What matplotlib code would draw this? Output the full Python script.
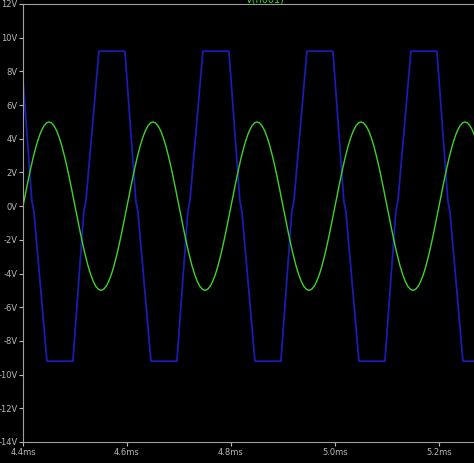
import numpy as np
import matplotlib.pyplot as plt

# green trace: 5 V sine, quarter period sampled every 0.005 ms, mirrored to a full period
quarter = [0.0, 0.782, 1.545, 2.270, 2.939, 3.536, 4.045, 4.455, 4.755, 4.938]
half = quarter + [5.0] + quarter[:0:-1]
sine_period = half + [-v for v in half]
green_t = np.arange(4.40, 5.2701, 0.005)
green_v = np.array((sine_period * 5)[:len(green_t)])

# blue trace: corners of one period of the clipped output (ms, V)
blue_corner_t = [4.396, 4.417, 4.421, 4.446, 4.496, 4.517, 4.521, 4.546]
blue_corner_v = [9.2, 0.3, -0.3, -9.2, -9.2, -0.3, 0.3, 9.2]
period = 0.2
blue_t = np.concatenate([np.array(blue_corner_t) + k * period for k in range(5)])
blue_v = np.tile(blue_corner_v, 5)

yticks = list(range(-14, 13, 2))
xticks = [4.4, 4.6, 4.8, 5.0, 5.2]

fig = plt.figure(figsize=(4.74, 4.63), dpi=100, facecolor="black")
ax = fig.add_axes([23 / 474, 21 / 463, 1 - 23 / 474, 438 / 463])
ax.set_facecolor("black")

ax.plot(blue_t, blue_v, color="#1c1cb0", lw=1.3)
ax.plot(green_t, green_v, color="#3fd22a", lw=1.0)

ax.set_xlim(4.4, 4.4 + 451 / 520)
ax.set_ylim(-14, 12)
ax.set_yticks(yticks)
ax.set_yticklabels([f"{v}V" for v in yticks])
ax.set_xticks(xticks)
ax.set_xticklabels([f"{v:.1f}ms" for v in xticks])
ax.tick_params(colors="#b8b8b8", labelsize=6, length=3, width=0.8, pad=1)
for s in ("left", "bottom", "top"):
    ax.spines[s].set_color("#a0a0a0")
ax.spines["right"].set_visible(False)

fig.text(265 / 474, 1.0, "V(n001)", color="#3fd22a", fontsize=7,
         ha="center", va="center")

fig.savefig("out.png", dpi=100, facecolor="black")
